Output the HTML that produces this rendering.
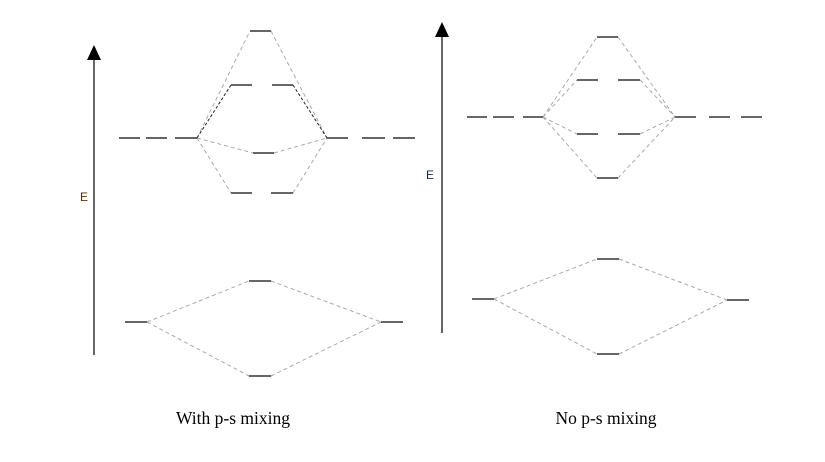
<!DOCTYPE html>
<html><head><meta charset="utf-8"><style>body{margin:0;background:#fff}</style></head><body>
<svg width="825" height="462" xmlns="http://www.w3.org/2000/svg" style="display:block">
<g stroke="#aaa" stroke-width="1" stroke-dasharray="4,3" fill="none">
<line x1="197" y1="138" x2="250" y2="31"/><line x1="271" y1="31" x2="327" y2="138"/>
<line x1="197" y1="138" x2="253" y2="153"/><line x1="274" y1="153" x2="327" y2="138"/>
<line x1="197" y1="138" x2="231" y2="193"/><line x1="293" y1="193" x2="327" y2="138"/>
<line x1="147" y1="322" x2="249" y2="281"/><line x1="271" y1="281" x2="381" y2="322"/>
<line x1="147" y1="322" x2="249" y2="376"/><line x1="271" y1="376" x2="381" y2="322"/>
<line x1="543" y1="117" x2="597" y2="37"/><line x1="618" y1="37" x2="675" y2="117"/>
<line x1="543" y1="117" x2="577" y2="80"/><line x1="640" y1="80" x2="675" y2="117"/>
<line x1="543" y1="117" x2="577" y2="134"/><line x1="640" y1="134" x2="675" y2="117"/>
<line x1="543" y1="117" x2="597" y2="178"/><line x1="618" y1="178" x2="675" y2="117"/>
<line x1="494" y1="299" x2="597" y2="259"/><line x1="619" y1="259" x2="727" y2="300"/>
<line x1="494" y1="299" x2="597" y2="354"/><line x1="619" y1="354" x2="727" y2="300"/>
</g>
<g stroke="#222" stroke-width="1" stroke-dasharray="3,2" fill="none">
<line x1="197" y1="138" x2="231" y2="85"/><line x1="293" y1="85" x2="327" y2="138"/>
</g>
<g stroke="#333" stroke-width="1.5">
<line x1="119" y1="138" x2="140" y2="138"/><line x1="146" y1="138" x2="167" y2="138"/><line x1="175" y1="138" x2="197" y2="138"/>
<line x1="327" y1="138" x2="348" y2="138"/><line x1="362" y1="138" x2="385" y2="138"/><line x1="393" y1="138" x2="415" y2="138"/>
<line x1="250" y1="31" x2="271" y2="31"/>
<line x1="231" y1="85" x2="252" y2="85"/><line x1="272" y1="85" x2="293" y2="85"/>
<line x1="253" y1="153" x2="274" y2="153"/>
<line x1="231" y1="193" x2="252" y2="193"/><line x1="271" y1="193" x2="293" y2="193"/>
<line x1="125" y1="322" x2="147" y2="322"/><line x1="249" y1="281" x2="271" y2="281"/><line x1="249" y1="376" x2="271" y2="376"/><line x1="381" y1="322" x2="403" y2="322"/>
<line x1="467" y1="117" x2="487" y2="117"/><line x1="493" y1="117" x2="514" y2="117"/><line x1="523" y1="117" x2="543" y2="117"/>
<line x1="675" y1="117" x2="696" y2="117"/><line x1="709" y1="117" x2="730" y2="117"/><line x1="741" y1="117" x2="762" y2="117"/>
<line x1="597" y1="37" x2="618" y2="37"/>
<line x1="577" y1="80" x2="598" y2="80"/><line x1="618" y1="80" x2="640" y2="80"/>
<line x1="577" y1="134" x2="598" y2="134"/><line x1="618" y1="134" x2="640" y2="134"/>
<line x1="597" y1="178" x2="618" y2="178"/>
<line x1="472" y1="299" x2="494" y2="299"/><line x1="597" y1="259" x2="619" y2="259"/><line x1="597" y1="354" x2="619" y2="354"/><line x1="727" y1="300" x2="749" y2="300"/>
</g>
<g stroke="#000" stroke-width="1.2">
<line x1="94" y1="58" x2="94" y2="355"/>
<line x1="442" y1="35" x2="442" y2="333"/>
</g>
<polygon points="94,45 87,60 101,60" fill="#000"/>
<polygon points="442,22 435,37 449,37" fill="#000"/>
<g font-family="Liberation Sans, sans-serif" font-size="12">
<text x="80" y="201" fill="#553300">E</text>
<text x="426" y="179" fill="#1a2a55">E</text>
</g>
<g font-family="Liberation Serif, serif" font-size="17.5" text-anchor="middle" fill="#000">
<text x="233" y="424">With p-s mixing</text>
<text x="606" y="424">No p-s mixing</text>
</g>
</svg>
</body></html>
